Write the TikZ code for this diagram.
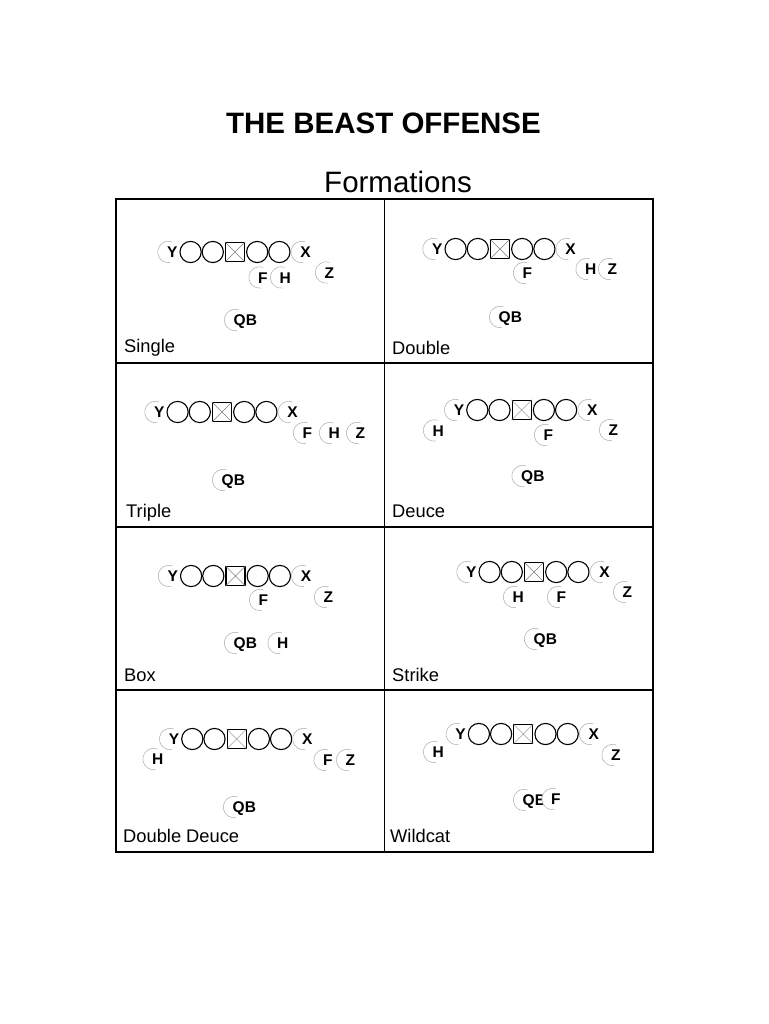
\documentclass[tikz,border=0pt]{standalone}
\usepackage{fontspec}
\setmainfont{Liberation Sans}
\newcommand\oline[3]{% prefix, x, y of centre
  \node[lman] (#1l1) at (#2-44.4,#3) {};
  \node[lman] (#1l2) at (#2-22.2,#3) {};
  \node[ctr] (#1c) at (#2,#3) {};
  \draw[xmark] (#1c.north west) -- (#1c.south east) (#1c.north east) -- (#1c.south west);
  \node[lman] (#1r1) at (#2+22.2,#3) {};
  \node[lman] (#1r2) at (#2+44.4,#3) {};
  \plr{#1Y}{#2-66.6}{#3}{Y}
  \plr{#1X}{#2+66.6}{#3}{X}
}
\newcommand\plr[4]{% name, x, y, text
  \fill[white] (#2,#3) circle[radius=10.7];
  \draw[parc] (#2,#3) ++(80:10.7) arc[start angle=80,end angle=290,radius=10.7];
  \node[plabel] (#1) at (#2-1.5,#3) {#4};
}
\begin{document}
\begin{tikzpicture}[x=1pt,y=-1pt,
  frame/.style={line width=1.8pt},
  divider/.style={line width=1.3pt},
  lman/.style={circle,draw,line width=1.1pt,minimum size=21.2pt,inner sep=0pt},
  ctr/.style={rectangle,draw,line width=1.3pt,minimum size=19pt,inner sep=0pt},
  xmark/.style={line width=0.4pt,gray},
  parc/.style={line width=0.5pt,gray!65},
  plabel/.style={font=\fontsize{15.5}{15.5}\selectfont\bfseries,inner sep=0pt,text height=11.1pt,text depth=0pt,anchor=west},
  flabel/.style={font=\fontsize{18.3}{18.3}\selectfont,anchor=base west,inner sep=0pt},
]
\useasboundingbox[fill=white] (0,0) rectangle (768,1024);

\node[font=\fontsize{29.5}{29.5}\selectfont\bfseries,anchor=base,inner sep=0pt] (title) at (383.5,134) {THE BEAST OFFENSE};
\node[font=\fontsize{29.5}{29.5}\selectfont,anchor=base,inner sep=0pt] (sub) at (398,193) {Formations};

\draw[divider] (384.5,199) -- (384.5,852);
\draw[divider] (116,363) -- (653,363);
\draw[divider] (116,527) -- (653,527);
\draw[divider] (116,690) -- (653,690);
\draw[frame] (116,199) rectangle (653,852);

% Single
\oline{a}{235}{252}
\plr{aF}{259.5}{277.5}{F}
\plr{aH}{281}{277.5}{H}
\plr{aZ}{326}{272.5}{Z}
\plr{aQ}{235}{320}{QB}
\node[flabel] (la) at (124,352) {Single};

% Double
\oline{b}{500}{249}
\plr{bF}{524}{273}{F}
\plr{bH}{586.5}{269}{H}
\plr{bZ}{609}{269}{Z}
\plr{bQ}{500}{317}{QB}
\node[flabel] (lb) at (392,354) {Double};

% Triple
\oline{c}{222}{412}
\plr{cF}{304}{433}{F}
\plr{cH}{330}{433}{H}
\plr{cZ}{357}{433}{Z}
\plr{cQ}{223}{480}{QB}
\node[flabel] (lc) at (126,517) {Triple};

% Deuce
\oline{d}{521.7}{410}
\plr{dH}{434}{430.5}{H}
\plr{dF}{545}{435}{F}
\plr{dZ}{610}{430}{Z}
\plr{dQ}{522.5}{476}{QB}
\node[flabel] (ld) at (392,517) {Deuce};

% Box
\oline{e}{235.5}{576}
\plr{eF}{260}{600}{F}
\plr{eZ}{325}{597}{Z}
\plr{eQ}{235}{643}{QB}
\plr{eH}{278.5}{643}{H}
\node[flabel] (le) at (124,681) {Box};

% Strike
\oline{f}{534}{572}
\plr{fH}{514}{597}{H}
\plr{fF}{558}{597}{F}
\plr{fZ}{624}{592}{Z}
\plr{fQ}{535}{639}{QB}
\node[flabel] (lf) at (392,681) {Strike};

% Double Deuce
\oline{g}{236.7}{739}
\plr{gH}{153.5}{759}{H}
\plr{gF}{324.5}{760}{F}
\plr{gZ}{347}{760}{Z}
\plr{gQ}{234}{807}{QB}
\node[flabel] (lg) at (123,842) {Double Deuce};

% Wildcat
\oline{h}{523.3}{734}
\plr{hH}{434}{752}{H}
\plr{hZ}{612.5}{755}{Z}
\plr{hQ}{524}{800}{QB}
\plr{hF}{552.5}{799}{F}
\node[flabel] (lh) at (390,842) {Wildcat};
\end{tikzpicture}
\end{document}
